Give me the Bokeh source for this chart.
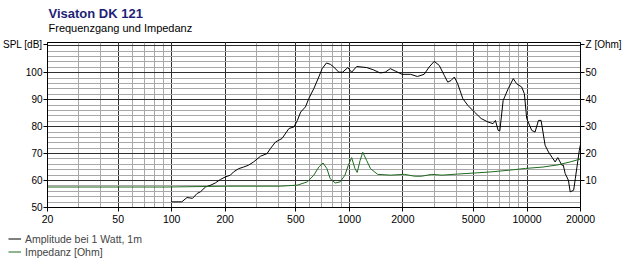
from bokeh.plotting import figure
from bokeh.layouts import column
from bokeh.models import Range1d, LinearAxis, FixedTicker, NumeralTickFormatter, Legend, LegendItem, Label
from bokeh.embed import file_html
from bokeh.resources import INLINE

# ---- data ----
spl_freq = [100, 114, 122, 131, 139, 145, 155, 166, 176, 188, 200, 214, 223, 238, 254, 271, 289, 316,
            344, 360, 384, 418, 457, 488, 510, 532, 566, 591, 631, 673, 703, 743, 782, 817, 872, 917,
            980, 1030, 1100, 1252, 1362, 1491, 1592, 1701, 1815, 1981, 2210, 2414, 2635, 2813, 3003,
            3206, 3423, 3578, 3735, 3900, 4072, 4350, 4640, 5060, 5520, 6030, 6440, 6640, 6880, 7030,
            7340, 7840, 8370, 8740, 9330, 9660, 9960, 10630, 11100, 11600, 12000, 12640, 13200, 13800,
            14400, 14900, 15700, 16000, 16400, 17100, 17500, 18300, 18700, 19100, 19700, 20000]
spl_db = [52.1, 52.1, 53.7, 53.4, 55.2, 55.8, 57.6, 58.3, 59.1, 60.4, 61.3, 62.0, 63.2, 64.4, 65.0, 65.7,
          66.9, 69.0, 70.0, 71.9, 74.3, 75.6, 79.3, 79.9, 82.3, 85.4, 87.3, 90.4, 94.1, 98.4, 101.5,
          103.6, 103.1, 102.1, 100.2, 100.2, 101.9, 100.2, 102.3, 101.9, 101.1, 99.9, 100.2, 101.5,
          100.6, 99.4, 99.4, 98.6, 99.4, 102.1, 104.2, 102.7, 99.0, 96.5, 97.1, 98.4, 95.9, 90.4, 87.9,
          85.4, 83.0, 81.7, 81.1, 82.3, 78.6, 78.4, 89.7, 94.1, 97.8, 95.9, 94.7, 92.2, 83.0, 78.6, 78.0,
          82.3, 82.3, 73.1, 70.6, 68.7, 66.9, 68.5, 65.7, 65.7, 62.6, 60.1, 55.8, 56.4, 60.7, 65.0,
          71.2, 73.4]

z_freq = [20, 40, 94, 206, 409, 510, 580, 631, 673, 711, 748, 780, 832, 887, 945, 987, 1030, 1075, 1107,
          1150, 1190, 1250, 1316, 1443, 1701, 2040, 2330, 2550, 2910, 3320, 4072, 5060, 6260, 7840,
          9820, 12300, 14900, 17500, 20000]
z_ohm = [7.6, 7.6, 7.6, 7.9, 7.9, 8.3, 9.5, 12.0, 15.0, 16.5, 14.4, 10.7, 9.1, 9.5, 12.0, 15.7, 18.5,
         14.5, 13.0, 17.5, 20.5, 17.5, 14.4, 12.3, 12.0, 12.3, 11.6, 11.6, 12.3, 12.0, 12.4, 12.8, 13.2,
         13.8, 14.5, 15.0, 15.8, 16.9, 18.0]

x_ticks = [20, 50, 100, 200, 500, 1000, 2000, 5000, 10000, 20000]
x_minor = [20, 30, 40, 50, 60, 70, 80, 90, 100, 200, 300, 400, 500, 600, 700, 800, 900,
           1000, 2000, 3000, 4000, 5000, 6000, 7000, 8000, 9000, 10000, 20000]
spl_ticks = [50, 60, 70, 80, 90, 100]
spl_grid = [50, 60, 70, 80, 90, 100, 110]
spl_minor = list(range(50, 112, 2))
z_ticks = [10, 20, 30, 40, 50]

title = "Visaton DK 121"
subtitle = "Frequenzgang und Impedanz"
left_label = "SPL [dB]"
right_label = "Z [Ohm]"
series_names = ["Amplitude bei 1 Watt, 1m", "Impedanz [Ohm]"]

FONT = "Liberation Sans"
SPL_COLOR = "black"
Z_COLOR = "#1f6b1f"
X0, X1 = 20, 20000
Y0, Y1 = 50, 111.2
Z0, Z1 = 0, 61.2
LABEL_ROW = 110.3          # axis-label row sits in the top band of the frame
Z_LABEL_ROW = LABEL_ROW - 50

W = 629
H_HEAD = 36
H_MAIN = 193
H_LEG = 273 - H_HEAD - H_MAIN

# ---- header strip: title and subtitle (pixel-space canvas) ----
h = figure(width=W, height=H_HEAD, x_range=Range1d(0, W), y_range=Range1d(H_HEAD, 0),
           output_backend="svg", toolbar_location=None, title=None,
           x_axis_location=None, y_axis_location=None,
           min_border_left=0, min_border_right=0, min_border_top=0, min_border_bottom=0)
h.frame_align = False
h.outline_line_color = None
h.xgrid.visible = False
h.ygrid.visible = False
h.background_fill_color = "white"
h.border_fill_color = "white"
h.add_layout(Label(x=48, y=12.5, text=title, text_font=FONT, text_font_size="13px",
                   text_font_style="bold", text_color="#1f1f78",
                   text_baseline="middle", text_align="left"))
h.add_layout(Label(x=48, y=27, text=subtitle, text_font=FONT, text_font_size="11px",
                   text_color="black", text_baseline="middle", text_align="left"))

# ---- main chart ----
p = figure(width=W, height=H_MAIN, x_axis_type="log", title=None,
           x_range=Range1d(X0, X1), y_range=Range1d(Y0, Y1),
           output_backend="svg", toolbar_location=None,
           min_border_left=47, min_border_right=49, min_border_top=6, min_border_bottom=22)
p.frame_align = False
p.extra_y_ranges = {"z": Range1d(Z0, Z1)}
p.background_fill_color = "white"
p.border_fill_color = "white"
p.outline_line_color = "black"
p.outline_line_alpha = 1

xa = p.xaxis[0]
xa.ticker = FixedTicker(ticks=x_ticks)
xa.formatter = NumeralTickFormatter(format="0")
ya = p.yaxis[0]
ya.ticker = FixedTicker(ticks=spl_ticks + [LABEL_ROW])
ya.major_label_overrides = {LABEL_ROW: left_label}
za = LinearAxis(y_range_name="z", ticker=FixedTicker(ticks=z_ticks + [Z_LABEL_ROW]))
za.major_label_overrides = {Z_LABEL_ROW: right_label}
p.add_layout(za, "right")
for ax in (xa, ya, za):
    ax.major_label_text_font = FONT
    ax.major_label_text_font_size = "10px"
    ax.major_label_text_color = "black"
    ax.axis_line_color = "black"
    ax.major_tick_line_color = "black"
    ax.major_tick_in = 0
    ax.major_tick_out = 4
    ax.minor_tick_line_color = None
    ax.major_label_standoff = 1
xa.major_label_text_font_size = "10.5px"
xa.major_label_standoff = 3

p.xgrid.ticker = FixedTicker(ticks=x_ticks, minor_ticks=x_minor)
p.ygrid.ticker = FixedTicker(ticks=spl_grid, minor_ticks=spl_minor)
for g in (p.xgrid[0], p.ygrid[0]):
    g.grid_line_color = "#303030"
    g.grid_line_alpha = 1
    g.minor_grid_line_color = "#a8a8a8"
    g.minor_grid_line_alpha = 1

p.line(spl_freq, spl_db, line_color=SPL_COLOR, line_width=1)
p.line(z_freq, z_ohm, y_range_name="z", line_color=Z_COLOR, line_width=1)

# ---- legend strip below the chart (series drawn outside its view; only the key shows) ----
q = figure(width=W, height=H_LEG, x_range=Range1d(0, 1), y_range=Range1d(0, 1),
           output_backend="svg", toolbar_location=None, title=None,
           x_axis_location=None, y_axis_location=None,
           min_border_left=0, min_border_right=0, min_border_top=0, min_border_bottom=0)
q.frame_align = False
q.outline_line_color = None
q.xgrid.visible = False
q.ygrid.visible = False
q.background_fill_color = "white"
q.border_fill_color = "white"
k_spl = q.line(spl_freq, spl_db, line_color=SPL_COLOR, line_width=1)
k_z = q.line(z_freq, z_ohm, line_color=Z_COLOR, line_width=1)
legend = Legend(items=[LegendItem(label=series_names[0], renderers=[k_spl]),
                       LegendItem(label=series_names[1], renderers=[k_z])],
                location=(8, 15), orientation="vertical",
                background_fill_alpha=0, border_line_color=None,
                padding=0, margin=0, spacing=0, label_height=13, glyph_height=13,
                glyph_width=13, label_standoff=4,
                label_text_font=FONT, label_text_font_size="10.5px")
q.add_layout(legend, "center")

open("out.html", "w").write(file_html(column(h, p, q, spacing=0), INLINE))
